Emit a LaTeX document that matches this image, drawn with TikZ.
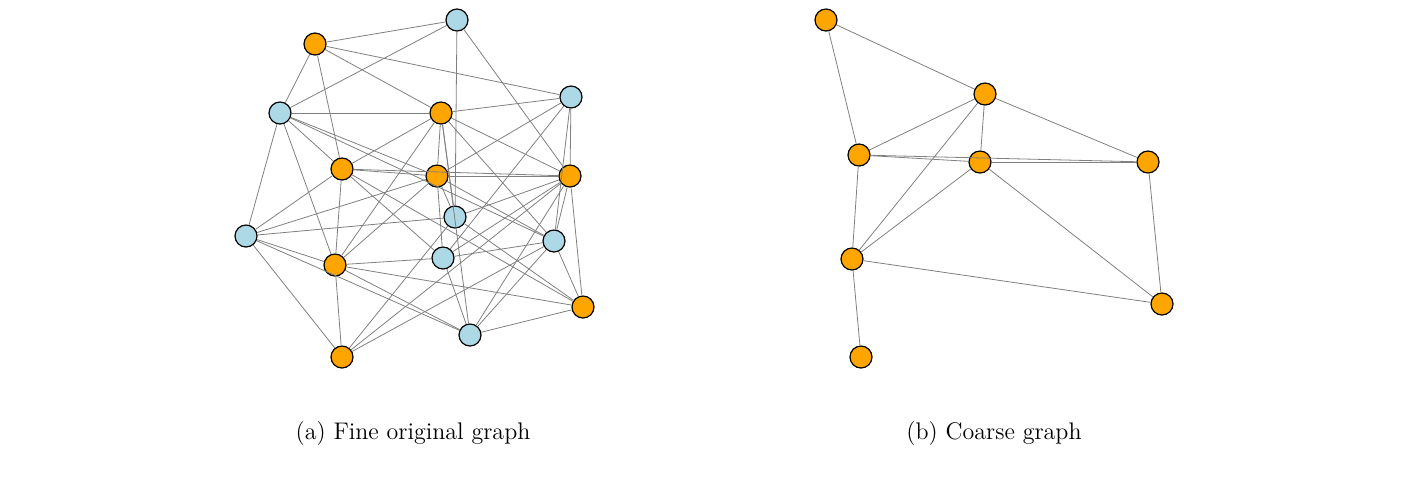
\documentclass[tikz,border=0pt]{standalone}
\begin{document}
\begin{tikzpicture}[x=0.5pt,y=-0.5pt,
  bl/.style={circle,draw=black,line width=0.6pt,fill=cyan!30!blue!10!white,fill={rgb,255:red,173;green,216;blue,230},minimum size=11pt,inner sep=0pt},
  og/.style={circle,draw=black,line width=0.6pt,fill={rgb,255:red,255;green,165;blue,0},minimum size=11pt,inner sep=0pt},
  ed/.style={draw={rgb,255:red,128;green,128;blue,128},line width=0.4pt}]
\useasboundingbox (0,0) rectangle (1409,479);
\node[bl] (A) at (457,20) {};
\node[og] (B) at (315,44) {};
\node[bl] (C) at (571,97) {};
\node[bl] (D) at (280,113) {};
\node[og] (E) at (441,113) {};
\node[og] (F) at (342,169) {};
\node[og] (G) at (437,176) {};
\node[og] (H) at (570,176) {};
\node[bl] (I) at (455,217) {};
\node[bl] (J) at (246,236) {};
\node[bl] (K) at (554,241) {};
\node[og] (L) at (335,265) {};
\node[bl] (M) at (443,258) {};
\node[og] (N) at (583,307) {};
\node[bl] (O) at (470,335) {};
\node[og] (P) at (342,357) {};
\begin{scope}[on background layer/.try]
\end{scope}
\foreach \u/\v in {A/B,A/D,A/I,A/H,B/C,B/D,B/E,B/F,C/E,C/G,C/H,C/K,C/M,
  D/E,D/F,D/G,D/J,D/L,D/K,E/F,E/G,E/I,E/H,E/K,E/L,E/O,
  F/G,F/H,F/L,F/J,F/M,F/N,G/H,G/I,G/J,G/L,G/K,G/M,
  H/I,H/K,H/N,H/O,H/P,H/M,I/J,I/N,I/P,J/L,J/O,J/P,
  K/N,K/O,K/P,K/M,L/M,L/N,L/O,L/P,M/O,N/O}
  \draw[ed] (\u) -- (\v);
\node[og] (a) at (826,20) {};
\node[og] (b) at (985,94) {};
\node[og] (c) at (859,155) {};
\node[og] (d) at (980,162) {};
\node[og] (e) at (1148,162) {};
\node[og] (f) at (852,259) {};
\node[og] (g) at (1162,304) {};
\node[og] (h) at (861,357) {};
\foreach \u/\v in {a/b,a/c,c/b,c/d,c/e,b/d,b/e,b/f,d/f,d/e,d/g,e/g,c/f,f/g,f/h}
  \draw[ed] (\u) -- (\v);
\node[font=\fontsize{12}{14}\selectfont] (capa) at (413,433) {(a) Fine original graph};
\node[font=\fontsize{12}{14}\selectfont] (capb) at (994,433) {(b) Coarse graph};
\end{tikzpicture}
\end{document}
